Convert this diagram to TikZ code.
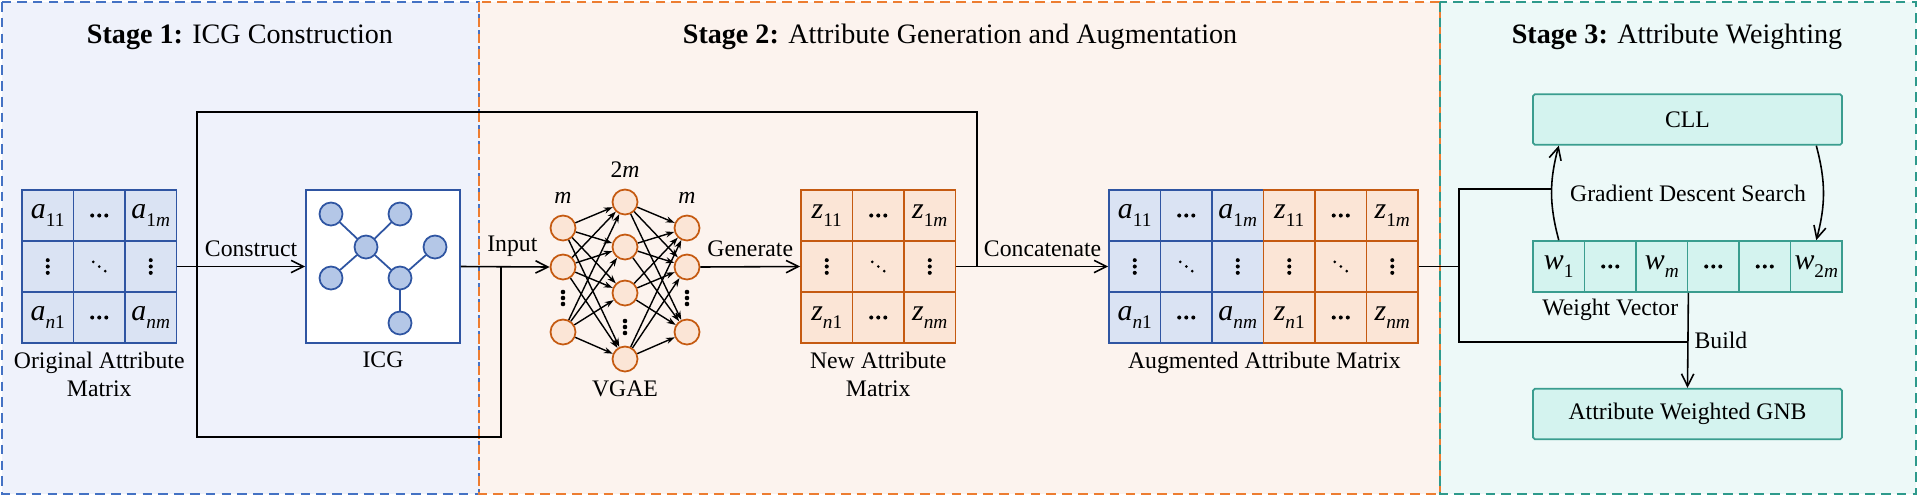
\documentclass[tikz,border=0pt]{standalone}
\usepackage{fontspec}
\setmainfont{Liberation Serif}
\usetikzlibrary{positioning, arrows.meta}

\definecolor{bluedash}{HTML}{4472C4}
\definecolor{bluebg}{HTML}{EFF2FB}
\definecolor{orangedash}{HTML}{ED7D31}
\definecolor{orangebg}{HTML}{FCF3EE}
\definecolor{tealdash}{HTML}{2E9A8C}
\definecolor{tealbg}{HTML}{EDF9F8}
\definecolor{blueline}{HTML}{2F55A2}
\definecolor{bluecell}{HTML}{DAE3F3}
\definecolor{bluenode}{HTML}{B4C7E7}
\definecolor{orangeline}{HTML}{C55A11}
\definecolor{orangecell}{HTML}{FBE5D6}
\definecolor{tealline}{HTML}{3A9D8F}
\definecolor{tealcell}{HTML}{D4F3EF}

%	matrix entries
\newcommand{\ent}[2]{\textit{#1}\raisebox{-0.55ex}{\fontsize{11}{11}\selectfont #2}}
\newcommand{\hdts}{\tikz[x = 1pt, y = 1pt] \foreach \d in {-4, 0, 4} \fill[black] (\d, 0) circle (1.15pt);}
\newcommand{\vdts}{\tikz[x = 1pt, y = 1pt] \foreach \d in {-3.6, 0, 3.6} \fill[black] (0, \d) circle (1.15pt);}
\newcommand{\ddts}{\tikz[x = 1pt, y = 1pt] \foreach \d in {-1, 0, 1} \fill[black] (3.4*\d, -2.6*\d) circle (0.85pt);}

%	3x3 attribute matrix: name, left, top, letter, style
\newcommand{\attrmat}[5]{%
	\foreach \row/\col/\txt in {1/1/{\ent{#4}{11}}, 1/2/{\hdts}, 1/3/{\ent{#4}{1\textit{m}}},
		2/1/{\vdts}, 2/2/{\ddts}, 2/3/{\vdts},
		3/1/{\ent{#4}{\textit{n}1}}, 3/2/{\hdts}, 3/3/{\ent{#4}{\textit{nm}}}}
	\node[#5] (#1-\row-\col) at ({#2+(\col-0.5)*51.5},{#3+(\row-0.5)*51}) {\txt};
}

\tikzset{
	cell/.style = {minimum width = 1.03cm, minimum height = 1.02cm, inner sep = 0pt, line width = 1pt, font = \fontsize{17}{17}\selectfont},
	cellA/.style = {cell, draw = blueline, fill = bluecell},
	cellZ/.style = {cell, draw = orangeline, fill = orangecell},
	cellW/.style = {cell, draw = tealline, fill = tealcell},
	stage/.style = {line width = 1.2pt, dash pattern = on 5.5pt off 3.5pt},
	title/.style = {font = \fontsize{16}{19}\selectfont},
	lbl/.style = {align = center},
	conn/.style = {line width = 0.9pt},
	arr/.style = {conn, -{Straight Barb[length = 7pt, width = 7pt]}},
	nnarr/.style = {line width = 0.8pt, -{Stealth[length = 5pt, width = 3.5pt]}},
	neuron/.style = {circle, draw = orangeline, fill = orangecell, line width = 1pt, minimum size = 0.5cm, inner sep = 0pt},
	gnode/.style = {circle, draw = blueline, fill = bluenode, line width = 1pt, minimum size = 0.46cm, inner sep = 0pt},
	gedge/.style = {draw = blueline, line width = 1pt},
	tbox/.style = {rectangle, rounded corners = 1pt, draw = tealline, fill = tealcell, line width = 1pt, minimum width = 6.18cm, minimum height = 1.01cm},
}

\begin{document}
\begin{tikzpicture}[x = 0.02cm, y = -0.02cm, font = \fontsize{13.5}{16}\selectfont]
	\useasboundingbox (0, 0) rectangle (1919, 498);
	
	%	stages
	\fill[orangebg] (479, 2) rectangle (1440, 494);
	\fill[bluebg] (2, 2) rectangle (479, 494);
	\fill[tealbg] (1440, 2) rectangle (1916, 494);
	\draw[stage, draw = bluedash] (2, 2) rectangle (479, 494);
	\draw[stage, draw = orangedash] (479, 2) rectangle (1440, 494);
	\draw[stage, draw = tealdash] (1440, 2) rectangle (1916, 494);
	
	\node[title] (t1) at (240, 37) {\textbf{Stage 1:} ICG Construction};
	\node[title] (t2) at (960, 37) {\textbf{Stage 2:} Attribute Generation and Augmentation};
	\node[title] (t3) at (1677, 37) {\textbf{Stage 3:} Attribute Weighting};
	
	%	stage 1
	\attrmat{orig}{22}{190}{a}{cellA}
	\node[lbl, below = 1pt of orig-3-2.south] (origlbl) {Original Attribute\\Matrix};
	
	\node[draw = blueline, fill = white, line width = 1pt, minimum width = 3.08cm, minimum height = 3.06cm] (icg) at (383, 266.5) {};
	\node[lbl, below = 1pt of icg] (icglbl) {ICG};
	\foreach \i/\x/\y in {1/331/214, 2/400/214, 3/366/247, 4/435/247, 5/331/278, 6/400/278, 7/400/323}
		\node[gnode] (g\i) at (\x, \y) {};
	\foreach \a/\b in {1/3, 2/3, 3/5, 3/6, 6/4, 6/7}
		\draw[gedge] (g\a) -- (g\b);
	
	\coordinate (split) at (197, 266.5);
	\coordinate (topR) at (977, 112);
	\coordinate (botR) at (501, 437);
	\coordinate (cat) at (977, 266.5);
	\coordinate (join) at (501, 266.5);
	
	\draw[conn] (orig-2-3.east) -- (split);
	\draw[arr] (split) -- (icg.west) node[midway, above = 2pt]{Construct};
	\draw[conn] (split) |- (topR) -- (cat);
	\draw[conn] (split) |- (botR) -- (join);
	
	%	stage 2: vgae
	\foreach \i/\y in {1/228, 2/267, 3/332}
		\node[neuron] (in-\i) at (563, \y) {};
	\foreach \i/\y in {1/202, 2/247, 3/293, 4/359}
		\node[neuron] (hid-\i) at (625, \y) {};
	\foreach \i/\y in {1/228, 2/267, 3/332}
		\node[neuron] (out-\i) at (687, \y) {};
	\foreach \x/\y in {563/298, 625/327, 687/298}
		\foreach \d in {-6, 0, 6}
			\fill (\x, \y + \d) circle (1.3pt);
	\node[lbl, above = 3pt of in-1] (mlbl1) {\textit{m}};
	\node[lbl, above = 3pt of hid-1] (mlbl2) {2\textit{m}};
	\node[lbl, above = 3pt of out-1] (mlbl3) {\textit{m}};
	\node[lbl, below = 1pt of hid-4] (vgaelbl) {VGAE};
	
	\foreach \i in {1, 2, 3}
		\foreach \j in {1, ..., 4}
			\draw[nnarr] (in-\i) -- (hid-\j);
	\foreach \j in {1, ..., 4}
		\foreach \i in {1, 2, 3}
			\draw[nnarr] (hid-\j) -- (out-\i);
	
	\draw[arr] (icg.east) -- (in-2.west) node[pos = 0.58, above = 2pt]{Input};
	
	%	stage 2: matrices
	\attrmat{new}{801}{190}{z}{cellZ}
	\node[lbl, below = 1pt of new-3-2.south] (newlbl) {New Attribute\\Matrix};
	\draw[arr] (out-2.east) -- (new-2-1.west) node[midway, above = 2pt]{Generate};
	
	\attrmat{augA}{1109}{190}{a}{cellA}
	\attrmat{augZ}{1263.5}{190}{z}{cellZ}
	\node[lbl, below = 1pt of augA-3-3.south east] (auglbl) {Augmented Attribute Matrix};
	\draw[conn] (new-2-3.east) -- (cat);
	\draw[arr] (cat) -- (augA-2-1.west) node[midway, above = 2pt]{Concatenate};
	
	%	stage 3
	\node[tbox] (cll) at (1687.5, 119.5) {CLL};
	\foreach \i/\txt in {1/{\ent{w}{1}}, 2/{\hdts}, 3/{\ent{w}{\textit{m}}}, 4/{\hdts}, 5/{\hdts}, 6/{\ent{w}{2\textit{m}}}}
		\node[cellW] (w-\i) at ({1533 + (\i - 0.5)*51.5}, 266.5) {\txt};
	\node[lbl, below = 0pt of w-2.south] (wlbl) {Weight Vector};
	\node[tbox] (gnb) at (1687.5, 414) {Attribute Weighted GNB};
	
	\draw[arr] (w-1.north) to[out = 105, in = -105] (w-1.north |- cll.south);
	\draw[arr] (w-6.north |- cll.south) to[out = -75, in = 75] (w-6.north);
	\node[lbl] (gds) at (1688, 193) {Gradient Descent Search};
	
	\draw[arr] (w-3.south east) -- (gnb.north) node[midway, right]{Build};
	
	\coordinate (j3) at (1459, 266.5);
	\coordinate (j3t) at (1459, 189);
	\coordinate (j3b) at (1459, 342);
	\coordinate (arcL) at (1551, 189);
	\coordinate (bj) at (1687.5, 342);
	\draw[conn] (augZ-2-3.east) -- (j3);
	\draw[conn] (arcL) -- (j3t) -- (j3b) -- (bj);
\end{tikzpicture}
\end{document}
